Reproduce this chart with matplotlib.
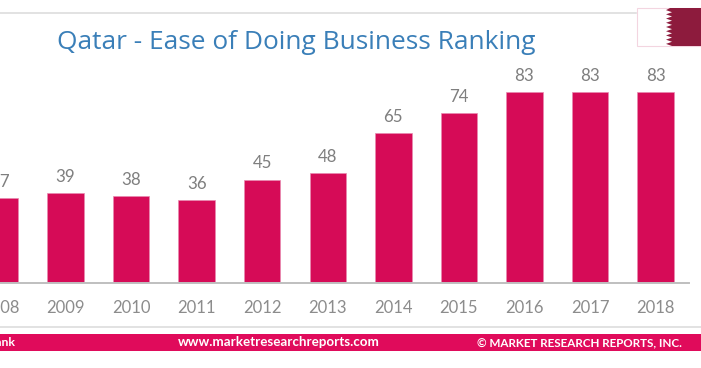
import matplotlib
matplotlib.use("Agg")
import matplotlib.pyplot as plt
from matplotlib.patches import Rectangle, Polygon
from matplotlib.transforms import Affine2D

years = [2008, 2009, 2010, 2011, 2012, 2013, 2014, 2015, 2016, 2017, 2018]
ranks = [37, 39, 38, 36, 45, 48, 65, 74, 83, 83, 83]
title = "Qatar - Ease of Doing Business Ranking"
source = "Source: World Bank"
site = "www.marketresearchreports.com"
copyright_text = "© MARKET RESEARCH REPORTS, INC."

W, H = 701, 368
PINK = "#D60B57"
BAND = "#E00B5B"
plt.rcParams["font.family"] = ["Lato", "DejaVu Sans"]
fig = plt.figure(figsize=(W / 100, H / 100), dpi=100)
px = Affine2D().scale(1, -1).translate(0, H)  # pixel coords, y down


def frac(x0, y_top, x1, y_bot):
    return [x0 / W, 1 - y_bot / H, (x1 - x0) / W, (y_bot - y_top) / H]


ax = fig.add_axes(frac(0, 53, 689, 283))
ax.bar(years, ranks, width=0.555, color=PINK, edgecolor="#E88BB0", linewidth=0.5)
ax.set_xlim(2008.021, 2018.51)
ax.set_ylim(0, 100)
ax.set_xticks(years)
ax.set_xticklabels(years, fontsize=12, color="#8C8C8C")
ax.tick_params(axis="x", length=0, pad=12)
ax.set_yticks([])
for s in ["top", "left", "right"]:
    ax.spines[s].set_visible(False)
ax.spines["bottom"].set_color("#BFBFBF")
ax.spines["bottom"].set_linewidth(1.4)
for x, v in zip(years, ranks):
    ax.annotate(str(v), (x, v), xytext=(0, 8), textcoords="offset pixels",
                ha="center", va="bottom", fontsize=12.2, color="#7F7F7F",
                annotation_clip=False)

# decorations in pixel coordinates
fig.add_artist(plt.Line2D([0, 636], [13, 13], color="#DDDDDD", lw=1.2, transform=px))
fig.add_artist(plt.Line2D([0, 701], [326.5, 326.5], color="#DDDDDD", lw=1.2, transform=px))
fig.add_artist(Rectangle((0, 334), 701, 17, color=BAND, lw=0, transform=px))

# flag
fig.add_artist(Rectangle((637, 7.5), 64, 38.5, facecolor="white", edgecolor="#F3D5E0", lw=0.8, transform=px))
n = 9
step = 38 / n
teeth = [(701, 8), (670, 8)]
for i in range(n):
    teeth += [(666, 8 + step * (i + 0.5)), (672, 8 + step * (i + 1))]
teeth += [(668, 46), (701, 46)]
fig.add_artist(Polygon(teeth, closed=True, color="#8D1B3D", lw=0, transform=px))

fig.text(57, 42.5, title, transform=px, fontsize=18.95, color="#3A7FB8", ha="left", va="center",
         family=["Open Sans", "DejaVu Sans"])
fig.text(15, 343, source, transform=px, fontsize=8.8, color="white", weight="bold", ha="right", va="center")
fig.text(178, 342.5, site, transform=px, fontsize=9.6, color="white", weight="bold", ha="left", va="center")
fig.text(477, 343.5, copyright_text, transform=px, fontsize=8.4, color="white", weight="bold", ha="left", va="center")

fig.savefig("out.png", dpi=100)
